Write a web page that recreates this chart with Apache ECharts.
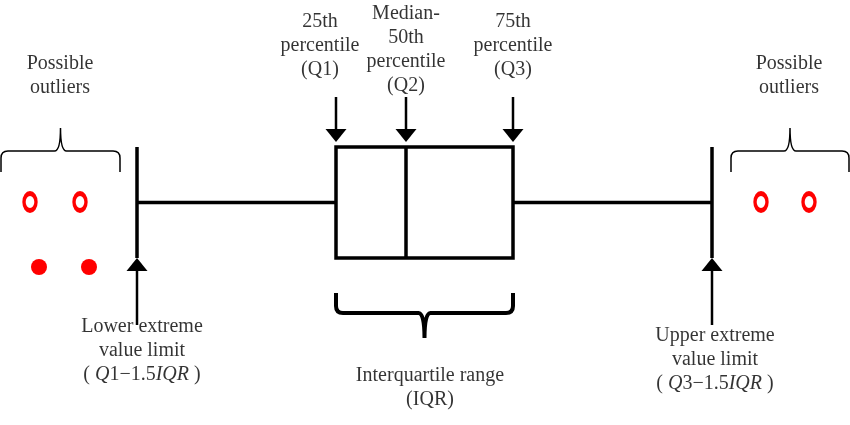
<!DOCTYPE html>
<html>
<head>
<meta charset="utf-8">
<script src="https://cdn.jsdelivr.net/npm/echarts@6/dist/echarts.min.js"></script>
<style>
  * { margin: 0; padding: 0; }
  #chart-container { width: 850px; height: 425px; background: #fff; }
</style>
</head>
<body>
<div id="chart-container"></div>
<script>
// box statistics: lower limit, Q1, median, Q3, upper limit
const categories = ['sample'];
const boxStats = [137, 336, 406, 513, 712];
// possible outliers
const openOutliers = [[30, 202], [80, 202], [761, 202], [809, 202]];
const filledOutliers = [[39, 267], [89, 267]];
// spans covered by the outlier braces
const outlierBraces = [[1, 120], [731, 849]];
// annotation texts
const noteTexts = [
  'Possible\noutliers',
  'Possible\noutliers',
  '25th\npercentile\n(Q1)',
  'Median-\n50th\npercentile\n(Q2)',
  '75th\npercentile\n(Q3)',
  'Interquartile range\n(IQR)',
  'Lower extreme\nvalue limit\n( {i|Q}1−1.5{i|IQR} )',
  'Upper extreme\nvalue limit\n( {i|Q}3−1.5{i|IQR} )'
];

const FONT = '"Liberation Serif", "DejaVu Serif", serif';

const dom = document.getElementById('chart-container');
const myChart = echarts.init(dom, null, { renderer: 'canvas' });

// arrows: [x, tail y, tip y]
const arrows = [
  [boxStats[1], 97, 142],
  [boxStats[2], 97, 142],
  [boxStats[3], 97, 142],
  [boxStats[0], 325, 258],
  [boxStats[4], 325, 258]
];

// where each note sits
const notePos = [
  [60, 76], [789, 76], [320, 46], [406, 50], [513, 46],
  [430, 388], [142, 351], [715, 360]
];

function arrowItem(params, api) {
  const p0 = api.coord([api.value(0), api.value(1)]);
  const p1 = api.coord([api.value(0), api.value(2)]);
  const dir = p1[1] > p0[1] ? 1 : -1;
  const head = 13, half = 10.5;
  const base = p1[1] - dir * head;
  return {
    type: 'group',
    children: [
      { type: 'line', shape: { x1: p0[0], y1: p0[1], x2: p1[0], y2: base },
        style: { stroke: '#000', lineWidth: 2.5 } },
      { type: 'polygon', shape: { points: [[p1[0] - half, base], [p1[0] + half, base], [p1[0], p1[1]]] },
        style: { fill: '#000' } }
    ]
  };
}

// curly brace between x0 and x1, ends at yEnd, bar at yMid, tip at yTip
function bracePath(x0, x1, yEnd, yMid, yTip, r) {
  const xm = (x0 + x1) / 2;
  const s = yMid < yEnd ? 1 : -1;
  return 'M' + x0 + ' ' + yEnd +
    ' L' + x0 + ' ' + (yMid + s * r) +
    ' Q' + x0 + ' ' + yMid + ' ' + (x0 + r) + ' ' + yMid +
    ' L' + (xm - 6) + ' ' + yMid +
    ' Q' + xm + ' ' + yMid + ' ' + xm + ' ' + yTip +
    ' Q' + xm + ' ' + yMid + ' ' + (xm + 6) + ' ' + yMid +
    ' L' + (x1 - r) + ' ' + yMid +
    ' Q' + x1 + ' ' + yMid + ' ' + x1 + ' ' + (yMid + s * r) +
    ' L' + x1 + ' ' + yEnd;
}

function braceItem(params, api) {
  const a = api.coord([api.value(0), api.value(2)]);
  const b = api.coord([api.value(1), api.value(3)]);
  const tip = api.coord([api.value(0), api.value(4)]);
  return {
    type: 'path',
    shape: { pathData: bracePath(a[0], b[0], a[1], b[1], tip[1], 7) },
    style: { fill: 'none', stroke: '#000', lineWidth: api.value(5) }
  };
}

const braces = [
  [outlierBraces[0][0], outlierBraces[0][1], 172, 151, 128, 1.5],
  [outlierBraces[1][0], outlierBraces[1][1], 172, 151, 128, 1.5],
  [boxStats[1], boxStats[3], 293, 313, 338, 4]
];

const option = {
  animation: false,
  backgroundColor: '#fff',
  grid: [
    { left: 0, right: 0, top: 0, bottom: 0 },
    { left: 0, right: 0, top: 147, height: 111 }
  ],
  xAxis: [
    { type: 'value', gridIndex: 0, min: 0, max: 850, show: false },
    { type: 'value', gridIndex: 1, min: 0, max: 850, show: false }
  ],
  yAxis: [
    { type: 'value', gridIndex: 0, min: 0, max: 425, inverse: true, show: false },
    { type: 'category', gridIndex: 1, data: categories, show: false }
  ],
  series: [
    {
      type: 'boxplot',
      xAxisIndex: 1,
      yAxisIndex: 1,
      data: [boxStats],
      boxWidth: [111, 111],
      itemStyle: { color: '#fff', borderColor: '#000', borderWidth: 3.5 },
      emphasis: { disabled: true }
    },
    {
      type: 'custom',
      xAxisIndex: 0,
      yAxisIndex: 0,
      renderItem: arrowItem,
      data: arrows,
      silent: true
    },
    {
      type: 'custom',
      xAxisIndex: 0,
      yAxisIndex: 0,
      renderItem: braceItem,
      data: braces,
      silent: true
    },
    {
      type: 'scatter',
      xAxisIndex: 0,
      yAxisIndex: 0,
      symbol: 'circle',
      symbolSize: [12, 17],
      itemStyle: { color: '#fff', borderColor: '#ff0000', borderWidth: 4, opacity: 1 },
      data: openOutliers,
      silent: true
    },
    {
      type: 'scatter',
      xAxisIndex: 0,
      yAxisIndex: 0,
      symbol: 'circle',
      symbolSize: 16,
      itemStyle: { color: '#ff0000', opacity: 1 },
      data: filledOutliers,
      silent: true
    },
    {
      type: 'scatter',
      xAxisIndex: 0,
      yAxisIndex: 0,
      symbolSize: 0,
      silent: true,
      label: {
        show: true,
        position: 'inside',
        align: 'center',
        verticalAlign: 'middle',
        color: '#000',
        fontFamily: FONT,
        fontSize: 20,
        lineHeight: 24,
        formatter: p => noteTexts[p.dataIndex],
        rich: {
          i: { fontFamily: FONT, fontSize: 20, lineHeight: 24, fontStyle: 'italic', color: '#000' }
        }
      },
      data: notePos
    }
  ]
};

myChart.setOption(option);
window.addEventListener('resize', () => myChart.resize());
</script>
</body>
</html>
